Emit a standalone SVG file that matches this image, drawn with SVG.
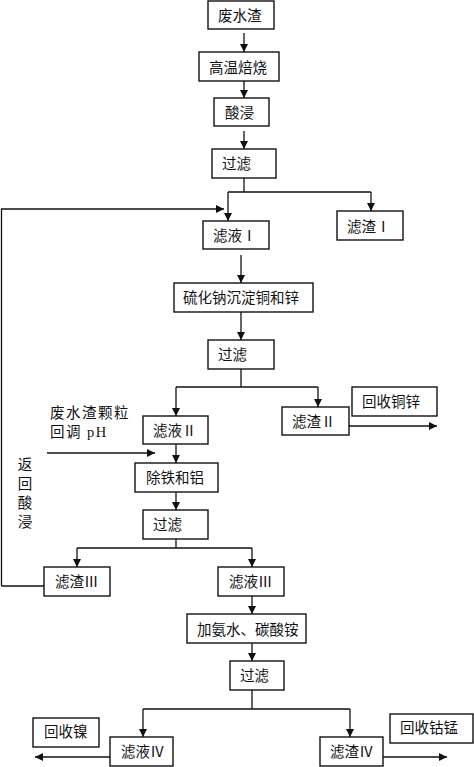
<svg xmlns="http://www.w3.org/2000/svg" width="474" height="767" viewBox="0 0 474 767">
<style>
.b{fill:#fff;stroke:#111;stroke-width:1.4}
.t{font-family:"Liberation Serif","Noto Sans CJK SC",serif;font-size:14.5px;fill:#111}
.c{fill:none;stroke:#111;stroke-width:1.3}
.a{marker-end:url(#ah)}
</style>
<defs>
<marker id="ah" markerWidth="10" markerHeight="10" refX="8" refY="4" orient="auto" markerUnits="userSpaceOnUse">
<path d="M0,0 L8,4 L0,8 Z" fill="#111"/>
</marker>
</defs>
<rect width="474" height="767" fill="#fff"/>
<g id="connectors">
<path class="c a" d="M244,33 V52"/>
<path class="c a" d="M244,81 V98"/>
<path class="c a" d="M244,131 V149"/>
<path class="c" d="M244,178 V192 M228,192 H371"/>
<path class="c a" d="M228,192 V221"/>
<path class="c a" d="M371,192 V211"/>
<path class="c a" d="M1.5,586 V209 H224"/>
<path class="c" d="M44,586 H1.5"/>
<path class="c a" d="M241,255 V283"/>
<path class="c a" d="M241,312 V340"/>
<path class="c" d="M241,369 V387 M176,387 H318"/>
<path class="c a" d="M176,387 V416"/>
<path class="c a" d="M318,387 V407"/>
<path class="c a" d="M349,426 H437"/>
<path class="c a" d="M47,453 H155"/>
<path class="c a" d="M176,444 V463"/>
<path class="c a" d="M176,492 V510"/>
<path class="c" d="M176,539 V548 M77,548 H252"/>
<path class="c a" d="M77,548 V567"/>
<path class="c a" d="M252,548 V567"/>
<path class="c a" d="M252,596 V614"/>
<path class="c a" d="M252,643 V661"/>
<path class="c" d="M252,690 V709 M143,709 H350"/>
<path class="c a" d="M143,709 V737"/>
<path class="c a" d="M350,709 V737"/>
<path class="c a" d="M110,757 H35"/>
<path class="c a" d="M383,757 H447"/>
</g>
<g id="n1"><rect class="b" x="208" y="1" width="66" height="28"/><text class="t" x="218" y="21">废水渣</text></g>
<g id="n2"><rect class="b" x="199" y="52" width="80" height="29"/><text class="t" x="209" y="73">高温焙烧</text></g>
<g id="n3"><rect class="b" x="214" y="98" width="55" height="28"/><text class="t" x="225" y="118">酸浸</text></g>
<g id="n4"><rect class="b" x="212" y="149" width="64" height="29"/><text class="t" x="222" y="169">过滤</text></g>
<g id="n5"><rect class="b" x="203" y="221" width="66" height="28"/><text class="t" x="213" y="241">滤液Ⅰ</text></g>
<g id="n6"><rect class="b" x="337" y="211" width="66" height="29"/><text class="t" x="347" y="232">滤渣Ⅰ</text></g>
<g id="n7"><rect class="b" x="174" y="283" width="139" height="29"/><text class="t" x="183" y="303">硫化钠沉淀铜和锌</text></g>
<g id="n8"><rect class="b" x="208" y="340" width="66" height="29"/><text class="t" x="218" y="360">过滤</text></g>
<g id="n9"><rect class="b" x="143" y="416" width="65" height="28"/><text class="t" x="153" y="436">滤液Ⅱ</text></g>
<g id="n10"><rect class="b" x="282" y="407" width="67" height="28"/><text class="t" x="292" y="427">滤渣Ⅱ</text></g>
<g id="n11"><rect class="b" x="352" y="387" width="85" height="29"/><text class="t" x="362" y="407">回收铜锌</text></g>
<g id="n12"><text class="t" x="50" y="418" letter-spacing="1.5">废水渣颗粒</text><text class="t" x="50" y="437" letter-spacing="1.5">回调 pH</text></g>
<g id="n13"><rect class="b" x="135" y="463" width="83" height="29"/><text class="t" x="146" y="483">除铁和铝</text></g>
<g id="n14"><text class="t" x="25" y="470" text-anchor="middle">返</text><text class="t" x="25" y="489" text-anchor="middle">回</text><text class="t" x="25" y="508" text-anchor="middle">酸</text><text class="t" x="25" y="527" text-anchor="middle">浸</text></g>
<g id="n15"><rect class="b" x="143" y="510" width="65" height="29"/><text class="t" x="153" y="530">过滤</text></g>
<g id="n16"><rect class="b" x="44" y="567" width="66" height="29"/><text class="t" x="55" y="587">滤渣Ⅲ</text></g>
<g id="n17"><rect class="b" x="218" y="567" width="66" height="29"/><text class="t" x="229" y="587">滤液Ⅲ</text></g>
<g id="n18"><rect class="b" x="187" y="614" width="119" height="29"/><text class="t" x="197" y="635">加氨水、碳酸铵</text></g>
<g id="n19"><rect class="b" x="230" y="661" width="54" height="29"/><text class="t" x="240" y="681">过滤</text></g>
<g id="n20"><rect class="b" x="33" y="718" width="66" height="29"/><text class="t" x="44" y="737">回收镍</text></g>
<g id="n21"><rect class="b" x="110" y="737" width="63" height="29"/><text class="t" x="121" y="757">滤液Ⅳ</text></g>
<g id="n22"><rect class="b" x="320" y="737" width="63" height="29"/><text class="t" x="330" y="757">滤渣Ⅳ</text></g>
<g id="n23"><rect class="b" x="390" y="714" width="83" height="29"/><text class="t" x="400" y="733">回收钴锰</text></g>
</svg>
